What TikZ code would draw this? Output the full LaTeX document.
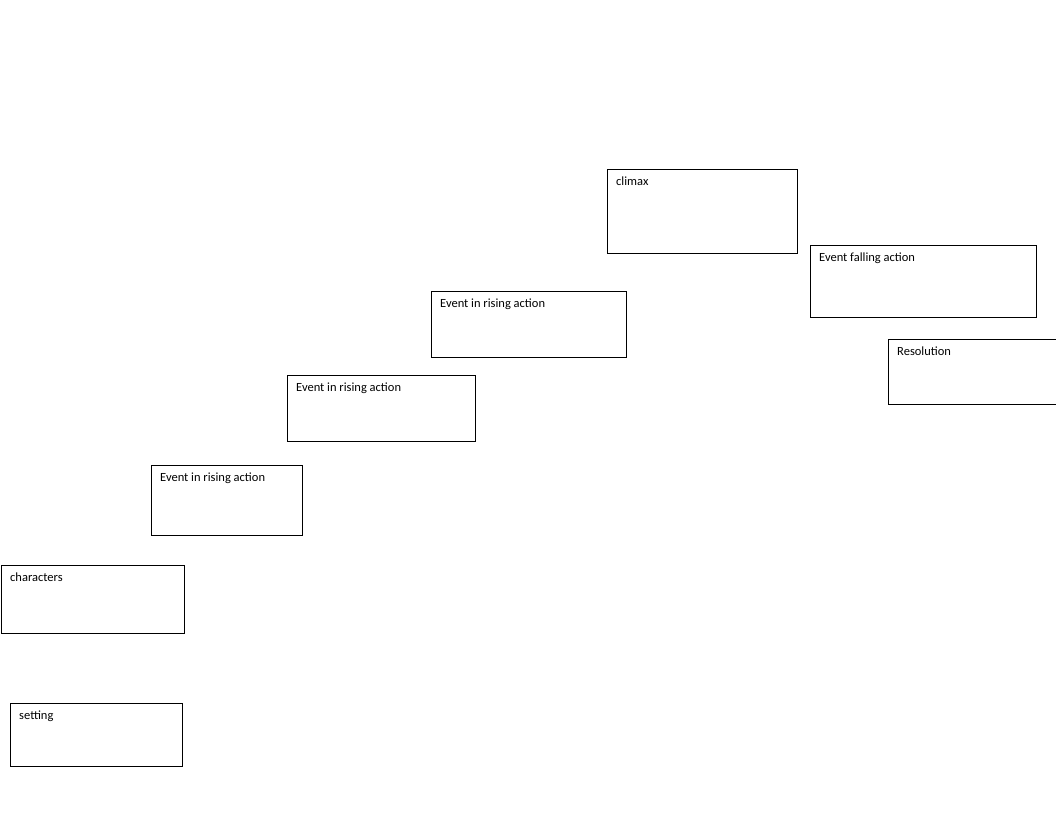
\documentclass[tikz,border=0pt]{standalone}
\usepackage{fontspec}
\setmainfont{Carlito}
\begin{document}
\begin{tikzpicture}[x=1pt,y=-1pt,
  boxline/.style={draw=black,line width=0.9pt},
  lbl/.style={anchor=north west,inner sep=0pt,font=\fontsize{12.5}{14}\selectfont}]
\useasboundingbox (0,0) rectangle (1056,816);
\begin{scope}
\clip (0,0) rectangle (1056,816);
\foreach \nm/\xa/\ya/\xb/\yb/\t in {
  setting/10/703/182/766/setting,
  characters/1/565/184/633/characters,
  ea/151/465/302/535/Event in rising action,
  eb/287/375/475/441/Event in rising action,
  ec/431/291/626/357/Event in rising action,
  climax/607/169/797/253/climax,
  fall/810/245/1036/317/Event falling action,
  res/888/339/1070/404/Resolution}{
  \draw[boxline] (\xa,\ya) rectangle (\xb,\yb);
  \node[lbl] (\nm) at (\xa+9,\ya+8) {\t};
}
\end{scope}
\end{tikzpicture}
\end{document}
